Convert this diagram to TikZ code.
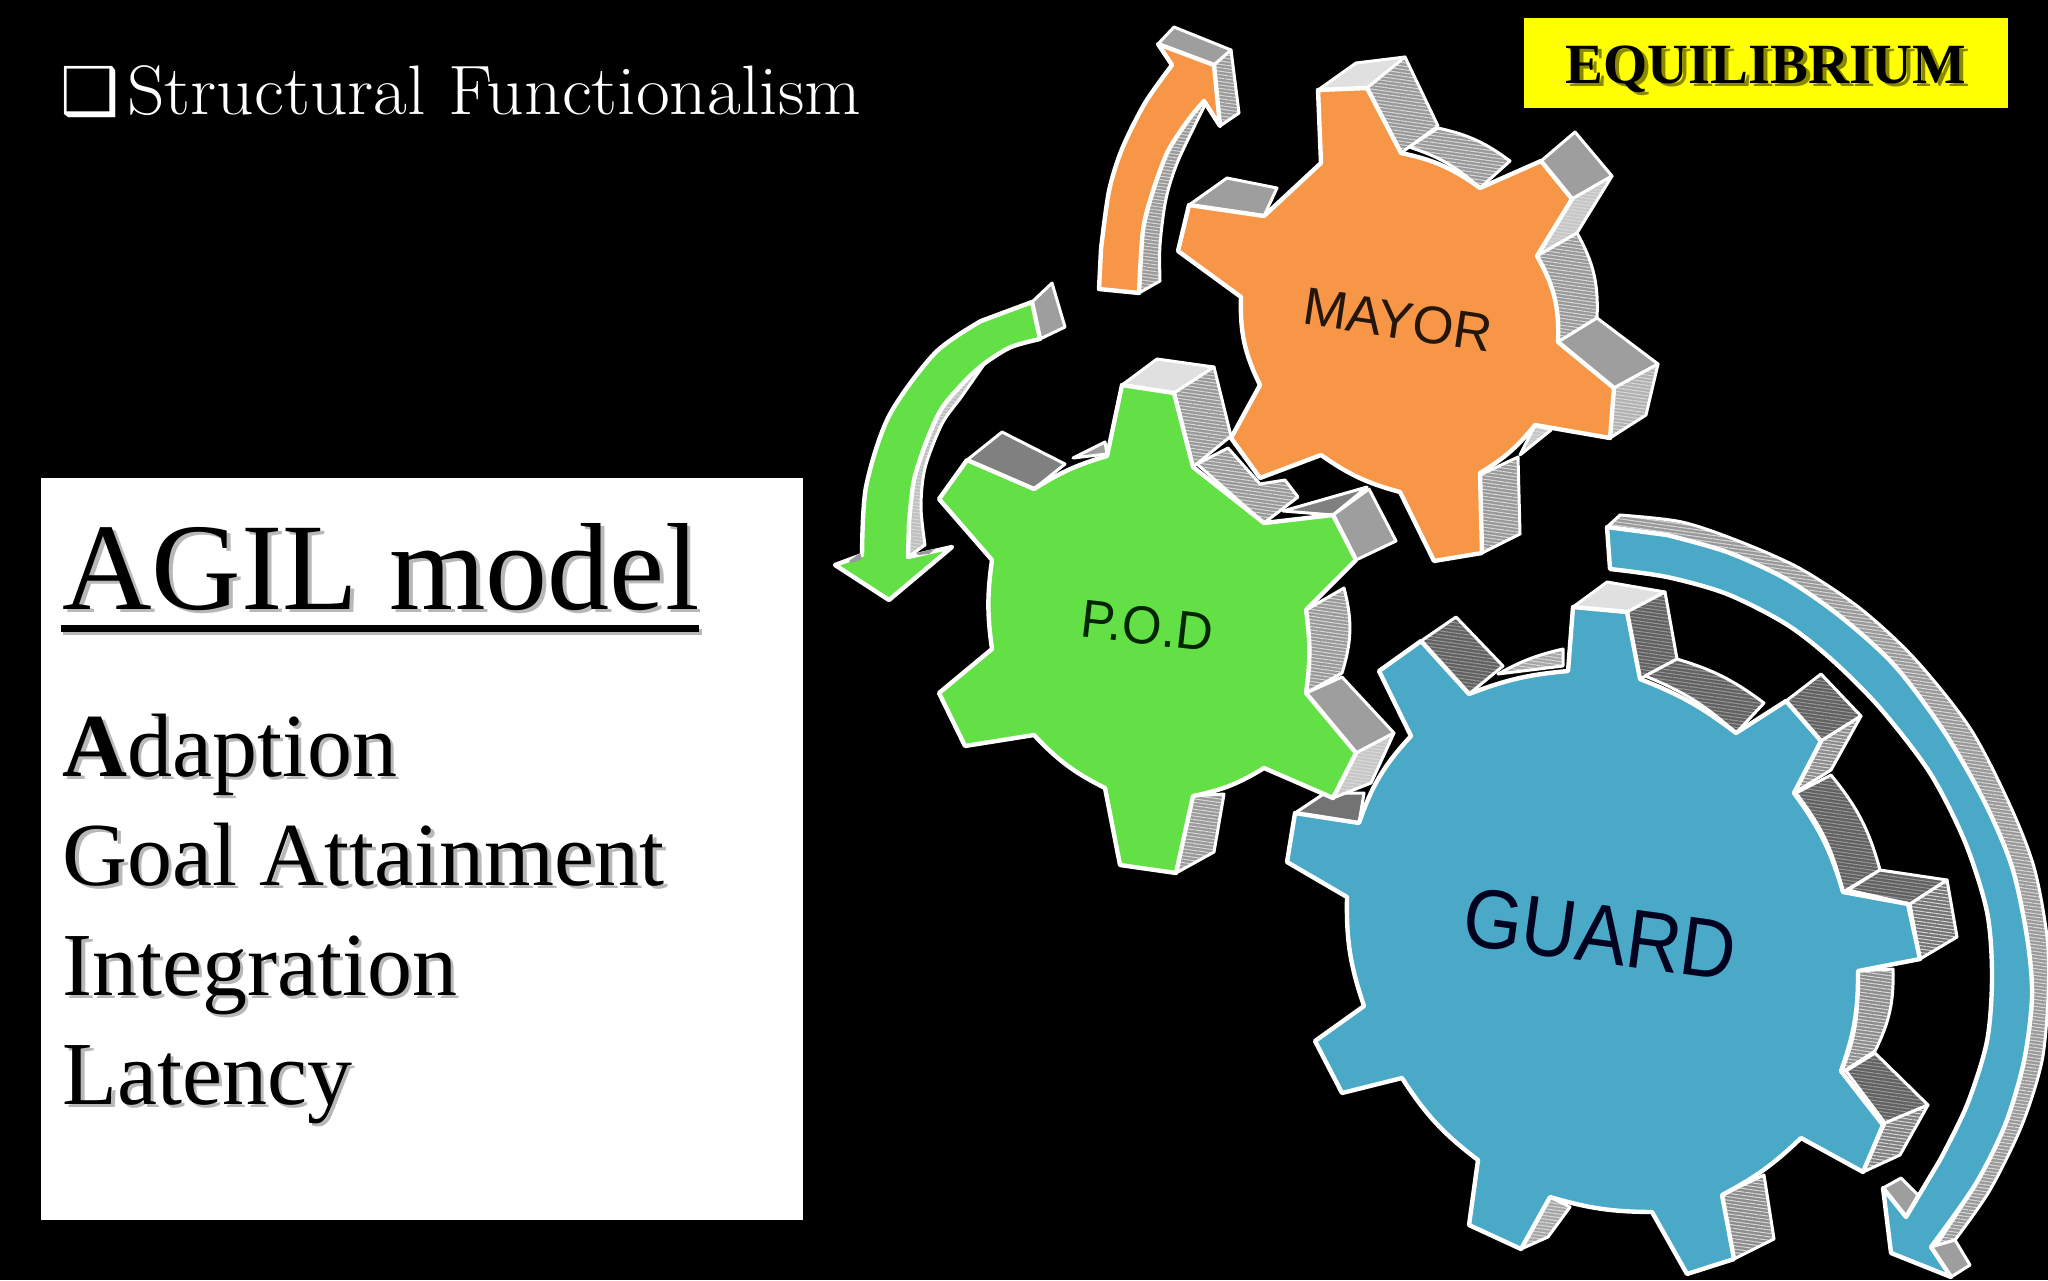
\documentclass[tikz,border=0pt]{standalone}
\usepackage{fontspec}
\usetikzlibrary{patterns.meta}
\newfontfamily\tnr{Liberation Serif}
\newfontfamily\arialf{Liberation Sans}
\newfontfamily\dvf{DejaVu Sans}
\definecolor{orangef}{HTML}{F79646}
\definecolor{greenf}{HTML}{63E045}
\definecolor{bluef}{HTML}{4BA9C8}
\definecolor{shadowg}{HTML}{B8B8B8}
\definecolor{shadowy}{HTML}{8A8A00}
\definecolor{labelyellow}{HTML}{FFFF00}
\newcommand{\shadowed}[2]{\rlap{\kern 1.8pt\raisebox{-1.8pt}{\color{#1}#2}}#2}
\tikzset{
  front/.style={draw=white,line width=2.2pt,line join=round,fill=#1},
  facebase/.style={draw=white,line width=1.5pt,line join=round},
  topface/.style={facebase,fill=#1},
  topface/.default={black!12},
  plainface/.style={facebase,fill=#1},
  plainface/.default={black!38},
  stripeface/.style={facebase,preaction={fill=#1},
    preaction={pattern={Lines[angle=-8,distance=1.7pt,line width=.5pt]},pattern color=white!85!black}},
  stripeface/.default={black!40},
  darkface/.style={facebase,preaction={fill=black!62},
    preaction={pattern={Lines[angle=-8,distance=1.7pt,line width=.5pt]},pattern color=black!40}},
  lab/.style={inner sep=0pt,anchor=base west,text=black},
  gearlab/.style={inner sep=0pt}
}
\begin{document}
\begin{tikzpicture}[x=.5pt,y=-.5pt]
\useasboundingbox (0,0) rectangle (2048,1280);
\fill[black] (0,0) rectangle (2048,1280);

% ---------- left panel
\fill[white] (41,478) rectangle (803,1220);
\node[lab,font=\tnr\fontsize{62}{70}\selectfont] (agil) at (62,609) {\shadowed{shadowg}{AGIL model}};
\fill[shadowg] (63,629) rectangle (702,635);
\fill[black] (61,625) rectangle (699,632);
\node[lab,font=\tnr\fontsize{45}{50}\selectfont] (adaption) at (62,776) {\shadowed{shadowg}{\textbf{A}daption}};
\node[lab,font=\tnr\fontsize{45}{50}\selectfont] (goal) at (62,885) {\shadowed{shadowg}{Goal Attainment}};
\node[lab,font=\tnr\fontsize{45}{50}\selectfont] (integ) at (62,995) {\shadowed{shadowg}{Integration}};
\node[lab,font=\tnr\fontsize{45}{50}\selectfont] (laten) at (62,1104) {\shadowed{shadowg}{Latency}};

% ---------- heading
\node[inner sep=0pt,anchor=base west,text=white,font=\dvf\fontsize{33}{36}\selectfont] (bullet) at (60,114) {❑};
\node[inner sep=0pt,anchor=base west,text=white,font=\fontsize{35}{40}\selectfont] (title) at (127,114) {\scalebox{1.05}[1]{Structural Functionalism}};

% ---------- yellow label
\node[fill=labelyellow,minimum width=242pt,minimum height=45pt,inner sep=0pt] (eqbox) at (1766,63) {};
\node[inner sep=0pt,anchor=base,text=black,font=\tnr\bfseries\fontsize{28.4}{32}\selectfont] (eq) at (1766,83) {\shadowed{shadowy}{EQUILIBRIUM}};

% ---------- orange arrow
\draw[stripeface] (1139,293) -- plot[smooth] coordinates {(1160,281) (1160,245) (1166,199) (1178,161) (1204,107)} -- plot[smooth] coordinates {(1204,101) (1189,119) (1168,151) (1153,191) (1143,230)} -- cycle;
\draw[plainface] (1158,44) -- (1174,27) -- (1231,50) -- (1214,65) -- cycle;
\draw[stripeface] (1214,65) -- (1231,50) -- (1239,113) -- (1220,126) -- cycle;
\draw[front=orangef] (1099,289) -- plot[smooth] coordinates {(1101,249) (1109,191) (1122,149) (1145,103) (1172,65)} -- (1158,44) -- (1214,65) -- (1220,126) -- plot[smooth] coordinates {(1204,101) (1189,119) (1168,151) (1153,191) (1143,230) (1139,293)} -- cycle;

% ---------- orange gear
\draw[topface] (1318,90) -- (1356,63) -- (1405,57) -- (1367,88) -- cycle;
\draw[stripeface] (1367,88) -- (1405,57) -- (1438,126) -- (1401,153) -- cycle;
\draw[stripeface] (1409,147) -- (1438,128) to[bend left=12] (1510,161) -- (1480,188) to[bend right=12] cycle;
\draw[plainface] (1541,161) -- (1575,132) -- (1612,176) -- (1572,199) -- cycle;
\draw[stripeface=black!22] (1572,199) -- (1612,176) -- (1577,233) -- (1537,256) -- cycle;
\draw[stripeface] (1537,256) -- (1577,233) to[bend left=16] (1597,318) -- (1558,342) to[bend right=16] cycle;
\draw[plainface] (1558,342) -- (1597,318) -- (1658,364) -- (1614,388) -- cycle;
\draw[stripeface=black!30] (1614,388) -- (1658,364) -- (1646,415) -- (1610,438) -- cycle;
\draw[stripeface=black!22] (1535,425) -- (1551,430) -- (1520,455) -- cycle;
\draw[stripeface] (1480,475) -- (1518,457) -- (1520,534) -- (1482,553) -- cycle;
\draw[plainface] (1189,205) -- (1227,178) -- (1277,188) -- (1264,216) -- cycle;
\draw[front=orangef] (1318,90) -- (1367,88) -- (1401,153) to[bend left=12] (1480,188) -- (1541,161) -- (1572,199) -- (1537,256) to[bend left=16] (1558,342) -- (1614,388) -- (1610,438) -- (1535,425) to[bend left=10] (1480,473) -- (1482,553) -- (1434,561) -- (1400,492) to[bend left=10] (1321,455) -- (1260,478) -- (1231,438) -- (1260,385) to[bend left=14] (1241,297) -- (1178,251) -- (1189,205) -- (1264,216) -- (1321,163) -- cycle;
\node[gearlab,text=black!85!orangef,font=\arialf\fontsize{26.5}{30}\selectfont,rotate=-8.5] (mayor) at (1398,320) {MAYOR};

% ---------- blue arrow
\draw[stripeface] (1607,527) -- plot[smooth] coordinates {(1620,515) (1682,522) (1741,542) (1801,569) (1861,609) (1915,659) (1970,728) (2009,803) (2034,867) (2047,937) (2048,996) (2042,1061) (2022,1125) (1990,1190) (1955,1240)} -- (1931,1247) -- plot[smooth] coordinates {(1937,1244) (1975,1185) (2005,1125) (2024,1061) (2032,996) (2027,937) (2012,867) (1985,803) (1945,733) (1895,666) (1841,617) (1786,579) (1727,552) (1667,535)} -- cycle;
\draw[plainface] (1883,1188) -- (1901,1178) -- (1918,1195) -- (1906,1217) -- cycle;
\draw[plainface] (1931,1247) -- (1955,1240) -- (1970,1265) -- (1951,1277) -- cycle;
\draw[front=bluef] (1607,527) -- plot[smooth] coordinates {(1667,535) (1727,552) (1786,579) (1841,617) (1895,666) (1945,733) (1985,803) (2012,867) (2027,937) (2032,996) (2024,1061) (2005,1125) (1975,1185) (1931,1247)} -- (1951,1277) -- (1891,1253) -- (1883,1188) -- (1906,1217) -- plot[smooth] coordinates {(1940,1160) (1967,1105) (1987,1041) (1992,976) (1987,912) (1965,842) (1930,773) (1880,708) (1831,659) (1786,624) (1727,594) (1667,577) (1610,569)} -- cycle;

% ---------- blue gear
\draw[topface] (1573,607) -- (1607,582) -- (1665,592) -- (1627,612) -- cycle;
\draw[darkface] (1627,612) -- (1665,592) -- (1677,659) -- (1640,679) -- cycle;
\draw[darkface] (1645,676) -- (1677,659) to[bend left=10] (1764,703) -- (1736,733) to[bend right=10] cycle;
\draw[darkface] (1786,701) -- (1821,674) -- (1861,716) -- (1821,741) -- cycle;
\draw[stripeface=black!45] (1821,741) -- (1861,716) -- (1831,770) -- (1794,793) -- cycle;
\draw[darkface] (1796,793) -- (1831,775) to[bend left=12] (1880,870) -- (1843,892) to[bend right=12] cycle;
\draw[darkface] (1848,890) -- (1880,870) -- (1947,880) -- (1910,904) -- cycle;
\draw[stripeface=black!55] (1910,904) -- (1947,880) -- (1957,937) -- (1920,959) -- cycle;
\draw[stripeface=black!45] (1856,971) -- (1893,969) to[bend left=14] (1875,1051) -- (1841,1073) to[bend right=14] cycle;
\draw[darkface] (1846,1071) -- (1875,1053) -- (1928,1105) -- (1885,1123) -- cycle;
\draw[stripeface=black!50] (1885,1123) -- (1928,1105) -- (1900,1155) -- (1863,1172) -- cycle;
\draw[stripeface=black!45] (1722,1195) -- (1764,1175) -- (1774,1239) -- (1734,1259) -- cycle;
\draw[stripeface=black!35] (1521,1249) -- (1550,1197) -- (1570,1207) -- (1548,1237) -- cycle;
\draw[darkface] (1421,641) -- (1456,617) -- (1503,666) -- (1469,694) -- cycle;
\draw[stripeface=black!35] (1498,674) to[bend left=8] (1563,649) -- (1563,666) -- cycle;
\draw[plainface=black!55] (1295,813) -- (1325,793) -- (1364,793) -- (1359,823) -- cycle;
\draw[front=bluef] (1573,607) -- (1627,612) -- (1640,679) to[bend left=8] (1736,733) -- (1786,701) -- (1821,741) -- (1794,793) to[bend left=10] (1843,892) -- (1908,904) -- (1920,959) -- (1858,971) to[bend left=10] (1841,1071) -- (1883,1125) -- (1863,1172) -- (1801,1138) to[bend left=8] (1722,1195) -- (1734,1259) -- (1687,1274) -- (1652,1212) to[bend left=8] (1550,1197) -- (1521,1249) -- (1469,1225) -- (1478,1160) to[bend left=10] (1402,1078) -- (1342,1093) -- (1315,1041) -- (1364,1006) to[bend left=10] (1347,897) -- (1287,862) -- (1295,813) -- (1359,823) to[bend left=12] (1411,736) -- (1379,671) -- (1421,641) -- (1469,694) to[bend left=8] (1568,671) -- cycle;
\node[gearlab,text=black!88!blue,font=\arialf\fontsize{38}{42}\selectfont,rotate=-7.7] (guard) at (1600,934) {\scalebox{1}[1.1]{GUARD}};

% ---------- green arrow
\draw[stripeface=black!25] (908,557) -- plot[smooth] coordinates {(925,545) (921,507) (925,468) (942,424) (962,396) (985,363)} -- plot[smooth] coordinates {(985,363) (965,381) (942,408) (927,440) (914,480) (909,523)} -- cycle;
\draw[plainface] (1032,302) -- (1052,283) -- (1065,327) -- (1040,339) -- cycle;
\draw[front=greenf] (1032,302) -- plot[smooth] coordinates {(981,321) (935,353) (889,416) (866,487) (862,555)} -- (835,565) -- (889,600) -- (952,547) -- (908,557) -- plot[smooth] coordinates {(909,523) (914,480) (927,440) (942,408) (965,381) (985,363) (1011,347) (1040,339)} -- cycle;
\fill[black!40] (849,561) -- (860,553) -- (862,559) -- (852,563) -- cycle;
\fill[black!40] (916,553) -- (935,549) -- (929,554) -- (918,555) -- cycle;

% ---------- green gear
\draw[topface] (1122,385) -- (1157,359) -- (1214,367) -- (1174,393) -- cycle;
\draw[stripeface] (1174,393) -- (1214,367) -- (1231,436) -- (1193,467) -- cycle;
\draw[stripeface] (1197,464) -- (1228,448) -- (1260,484) -- (1285,480) -- (1298,497) -- (1264,523) -- cycle;
\draw[plainface=black!50] (1283,511) -- (1367,487) -- (1333,515) -- cycle;
\draw[plainface] (1333,515) -- (1369,489) -- (1396,541) -- (1356,560) -- cycle;
\draw[stripeface] (1306,610) -- (1344,588) to[bend left=16] (1342,673) -- (1306,693) to[bend right=8] cycle;
\draw[plainface] (1306,693) -- (1342,677) -- (1394,733) -- (1356,753) -- cycle;
\draw[stripeface=black!22] (1356,753) -- (1394,733) -- (1371,783) -- (1333,798) -- cycle;
\draw[stripeface] (1193,796) -- (1224,794) -- (1214,852) -- (1176,873) -- cycle;
\draw[plainface=black!50] (967,460) -- (1002,432) -- (1065,464) -- (1034,489) -- cycle;
\draw[plainface] (1073,458) -- (1105,442) -- (1107,454) -- cycle;
\draw[front=greenf] (1122,385) -- (1174,393) -- (1193,467) -- (1264,523) -- (1333,515) -- (1356,560) -- (1306,610) to[bend left=8] (1306,693) -- (1356,753) -- (1333,798) -- (1264,768) to[bend left=10] (1193,796) -- (1176,873) -- (1120,865) -- (1105,788) to[bend left=10] (1034,735) -- (965,746) -- (939,693) -- (992,649) to[bend left=8] (992,560) -- (939,499) -- (967,460) -- (1034,489) to[bend left=8] (1107,456) -- cycle;
\node[gearlab,text=black!85!green,font=\arialf\fontsize{25.5}{28}\selectfont,rotate=-6.5] (pod) at (1147,626) {\scalebox{1}[1.05]{P.O.D}};
\end{tikzpicture}
\end{document}
